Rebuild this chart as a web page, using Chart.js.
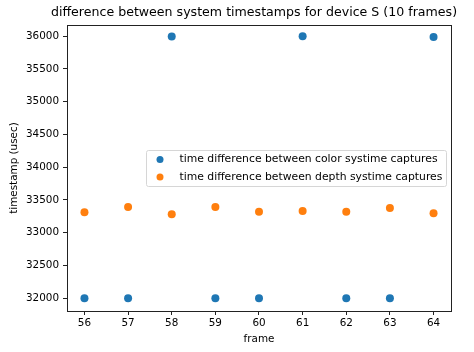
<!DOCTYPE html>
<html lang="en">
<head>
  <meta charset="UTF-8">
  <title>difference between system timestamps</title>
  <script src="https://cdn.jsdelivr.net/npm/chart.js"></script>
  <style>
    body { margin: 0; padding: 0; background: #fff; }
    .wrap { width: 474px; height: 352px; }
  </style>
</head>
<body>
  <div class="wrap"><canvas id="chart"></canvas></div>
  <script>
    // frames and measured timestamp differences (usec)
    const frames = [56, 57, 58, 59, 60, 61, 62, 63, 64];
    const colorDiffs = [32000, 32000, 35995, 32000, 32000, 36000, 32000, 32000, 35985];
    const depthDiffs = [33312, 33393, 33281, 33393, 33321, 33332, 33321, 33378, 33296];
    const xTicks = [56, 57, 58, 59, 60, 61, 62, 63, 64];
    const yTicks = [32000, 32500, 33000, 33500, 34000, 34500, 35000, 35500, 36000];
    const labels = ['time difference between color systime captures', 'time difference between depth systime captures'];
    const colors = ['#1f77b4', '#ff7f0e'];
    const chartTitle = 'difference between system timestamps for device S (10 frames)';

    const FONT = 'DejaVu Sans';
    const TICK = 10.4;

    // axes frame, title over the axes, legend at center right
    const frameAndLegend = {
      id: 'frameAndLegend',
      afterDraw(chart) {
        const { ctx, chartArea: a } = chart;
        ctx.save();
        ctx.strokeStyle = '#222';
        ctx.lineWidth = 1;
        ctx.strokeRect(a.left + 0.5, a.top + 0.5, a.right - a.left, a.bottom - a.top);

        ctx.fillStyle = '#000';
        ctx.font = '12.6px ' + FONT;
        ctx.textAlign = 'center';
        ctx.textBaseline = 'middle';
        ctx.fillText(chartTitle, (a.left + a.right) / 2 - 5, 13);

        const w = 300, h = 36;
        const x = a.right - 5 - w;
        const y = (a.top + a.bottom) / 2 - h / 2;
        ctx.fillStyle = 'rgba(255,255,255,0.8)';
        ctx.strokeStyle = '#d6d6d6';
        ctx.beginPath();
        ctx.roundRect(x + 0.5, y + 0.5, w, h, 2);
        ctx.fill();
        ctx.stroke();

        ctx.font = '10.8px ' + FONT;
        ctx.textAlign = 'left';
        labels.forEach((lab, i) => {
          const cy = y + 9.5 + i * 17.5;
          ctx.fillStyle = colors[i];
          ctx.beginPath();
          ctx.arc(x + 14, cy, 3.5, 0, Math.PI * 2);
          ctx.fill();
          ctx.fillStyle = '#000';
          ctx.fillText(lab, x + 33.5, cy);
        });
        ctx.restore();
      }
    };

    new Chart(document.getElementById('chart').getContext('2d'), {
      type: 'scatter',
      data: {
        datasets: [
          {
            label: labels[0],
            data: frames.map((f, i) => ({ x: f, y: colorDiffs[i] })),
            backgroundColor: colors[0],
            borderColor: colors[0],
            pointRadius: 4,
            pointBorderWidth: 0
          },
          {
            label: labels[1],
            data: frames.map((f, i) => ({ x: f, y: depthDiffs[i] })),
            backgroundColor: colors[1],
            borderColor: colors[1],
            pointRadius: 4,
            pointBorderWidth: 0
          }
        ]
      },
      options: {
        responsive: true,
        maintainAspectRatio: false,
        animation: false,
        layout: { padding: { top: 25, right: 23, bottom: 6, left: 0 } },
        scales: {
          x: {
            type: 'linear',
            min: 55.6,
            max: 64.4,
            afterBuildTicks: s => { s.ticks = xTicks.map(v => ({ value: v })); },
            afterFit: s => { s.height = 35; },
            grid: { drawOnChartArea: false, drawTicks: true, tickLength: 4, color: '#222' },
            border: { display: true, color: '#222' },
            ticks: { color: '#000', font: { family: FONT, size: TICK }, padding: 2, maxRotation: 0 },
            title: { display: true, text: 'frame', color: '#000', font: { family: FONT, size: TICK }, padding: { top: 2, bottom: 0 } }
          },
          y: {
            type: 'linear',
            min: 31805,
            max: 36170,
            afterBuildTicks: s => { s.ticks = yTicks.map(v => ({ value: v })); },
            afterFit: s => { s.width = 67; },
            grid: { drawOnChartArea: false, drawTicks: true, tickLength: 4, color: '#222' },
            border: { display: true, color: '#222' },
            ticks: { color: '#000', font: { family: FONT, size: TICK }, padding: 4, callback: v => String(v) },
            title: { display: true, text: 'timestamp (usec)', color: '#000', font: { family: FONT, size: TICK }, padding: { top: 8, bottom: 2 } }
          }
        },
        plugins: {
          legend: { display: false },
          tooltip: { enabled: false },
          title: { display: false }
        }
      },
      plugins: [frameAndLegend]
    });
  </script>
</body>
</html>
